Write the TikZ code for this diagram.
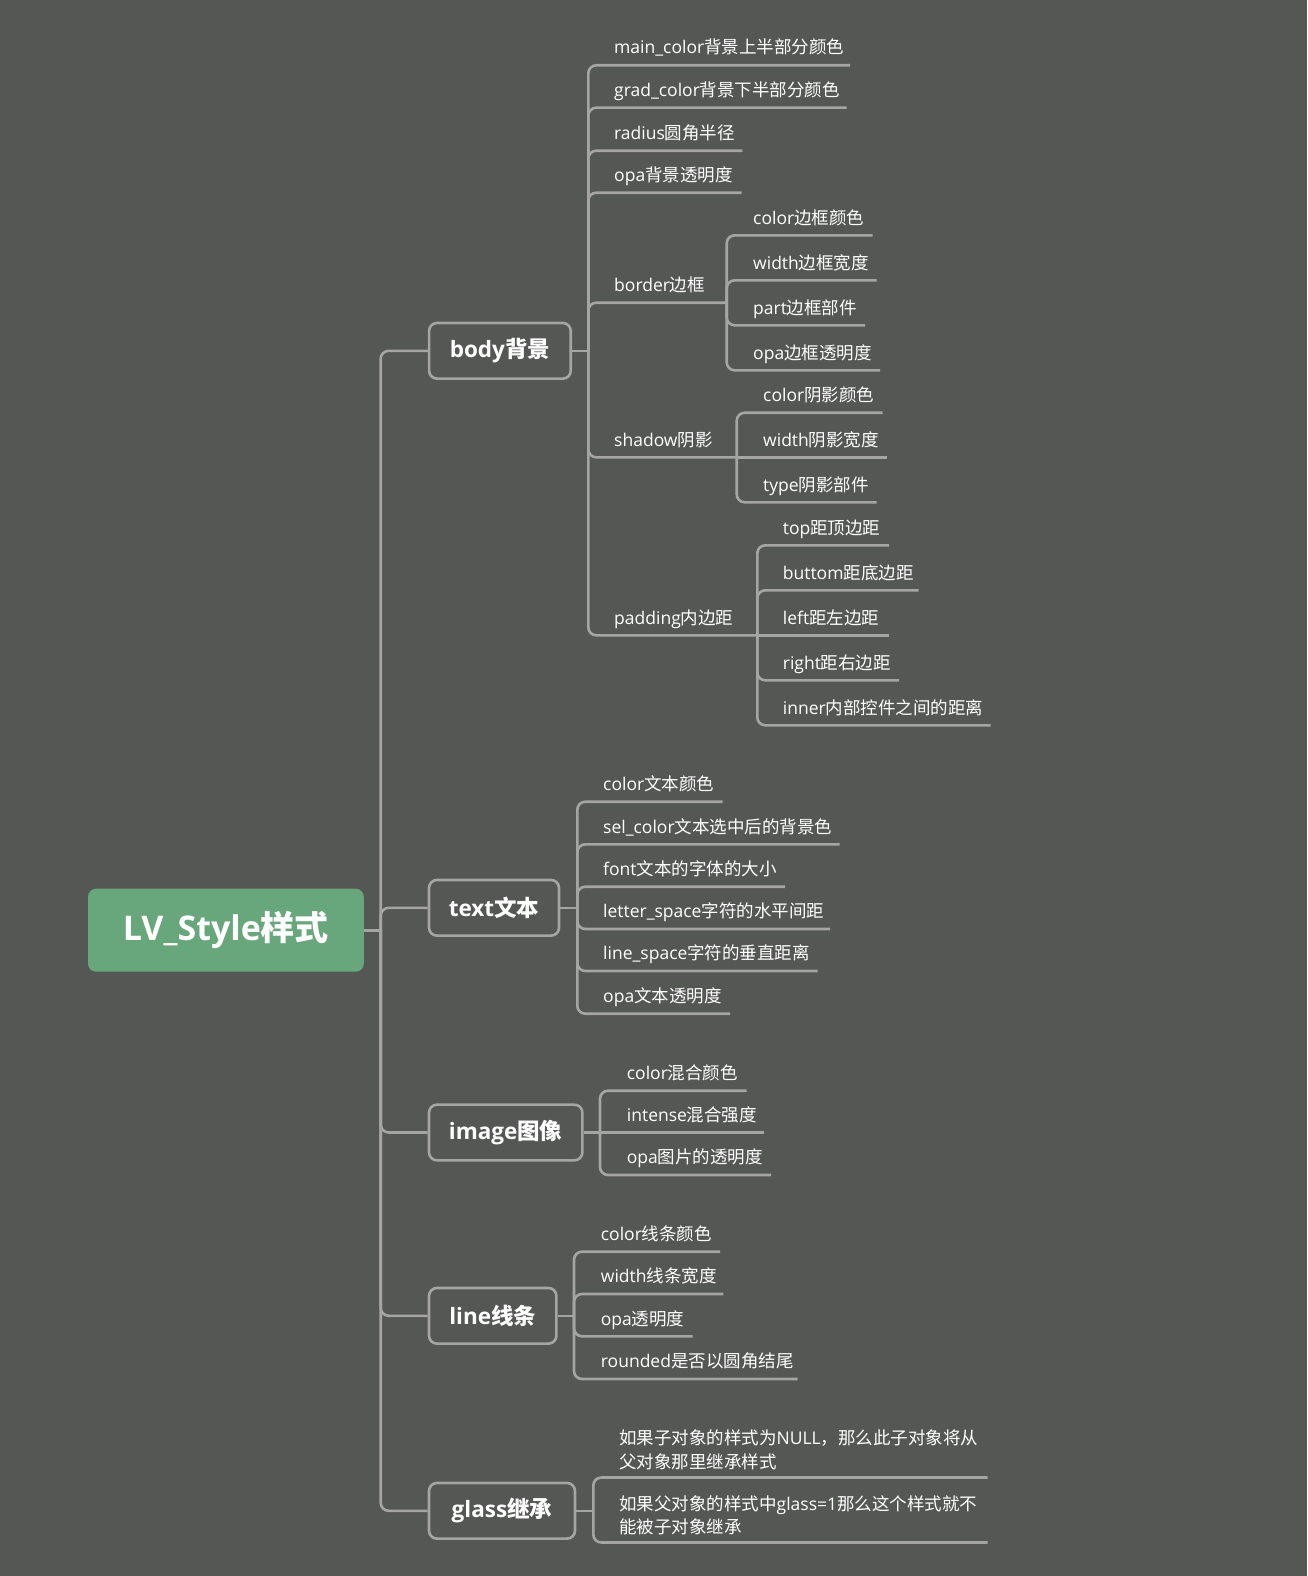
\documentclass[tikz,border=0pt]{standalone}
\usepackage{fontspec}
\setmainfont{Open Sans}
\newfontfamily\cjkf{Noto Sans CJK SC}
\XeTeXinterchartokenstate=1
\newXeTeXintercharclass\cjkcls
\count255="4E00
\loop\XeTeXcharclass\count255=\cjkcls \advance\count255 by 1 \ifnum\count255<"A000 \repeat
\XeTeXcharclass"FF0C=\cjkcls
\XeTeXinterchartoks 0 \cjkcls = {\cjkf}
\XeTeXinterchartoks 4095 \cjkcls = {\cjkf}
\XeTeXinterchartoks \cjkcls 0 = {\rmfamily}
\definecolor{bgC}{HTML}{555755}
\definecolor{lnC}{HTML}{A5A6A3}
\definecolor{rootC}{HTML}{68A67C}
\tikzset{
  conn/.style={draw=lnC, line width=2.6pt, rounded corners=8pt},
  leaf/.style={anchor=base west, inner sep=0pt, text=white, font=\fontsize{17.5}{23.4}\selectfont},
  leaftwo/.style={leaf, anchor=west, align=left},
  topic/.style={draw=lnC, line width=2.6pt, rounded corners=8pt, minimum height=55.7pt, inner sep=0pt, text=white, font=\bfseries\fontsize{22.5}{27}\selectfont},
  root/.style={fill=rootC, rounded corners=8pt, minimum width=275.7pt, minimum height=83pt, inner sep=0pt, text=white, font=\bfseries\fontsize{34}{40}\selectfont}
}
\newcommand\leafitem[5]{\node[leaf] (#1) at (#2,#3-11.3) {#5}; \coordinate (#1e) at (#4,#3);}
\begin{document}
\begin{tikzpicture}[x=1pt,y=-1pt]
\fill[bgC] (0,0) rectangle (1307,1576);
\useasboundingbox (0,0) rectangle (1307,1576);
% root and topics
\node[root] (root) at (225.9,930.2) {LV\_Style样式};
\node[topic, minimum width=141.7pt] (body) at (499.9,350.8) {body背景};
\node[topic, minimum width=130pt] (text) at (494,907.8) {text文本};
\node[topic, minimum width=153.4pt] (image) at (505.7,1132.5) {image图像};
\node[topic, minimum width=127.4pt] (line) at (492.7,1315.8) {line线条};
\node[topic, minimum width=146pt] (glass) at (502,1510.8) {glass继承};
\coordinate (mJ) at (380.7,930.2);
\draw[conn] (root.east) -- (mJ);
\foreach \t in {body,text,image,line,glass} {\draw[conn] (mJ) |- (\t.west);}
% body
\coordinate (bJ) at (588.3,350.8);
\draw[conn] (body.east) -- (bJ);
\leafitem{b1}{614}{65.3}{850}{main\_color背景上半部分颜色}
\leafitem{b2}{614}{107.7}{846.7}{grad\_color背景下半部分颜色}
\leafitem{b3}{614}{150.7}{742.3}{radius圆角半径}
\leafitem{b4}{614}{192.7}{741.7}{opa背景透明度}
\leafitem{b5}{614}{302.7}{726.7}{border边框}
\leafitem{b6}{614}{457.3}{736.7}{shadow阴影}
\leafitem{b7}{614}{635.3}{757.3}{padding内边距}
\foreach \n in {b1,b2,b3,b4,b5,b6,b7} {\draw[conn] (bJ) |- (\n e);}
% border
\leafitem{bb1}{753}{235.3}{872.7}{color边框颜色}
\leafitem{bb2}{753}{280.3}{876.7}{width边框宽度}
\leafitem{bb3}{753}{325.3}{865}{part边框部件}
\leafitem{bb4}{753}{370.3}{880}{opa边框透明度}
\foreach \n in {bb1,bb2,bb3,bb4} {\draw[conn] (b5e) |- (\n e);}
% shadow
\leafitem{bs1}{763}{412.7}{882.7}{color阴影颜色}
\leafitem{bs2}{763}{457.3}{886.7}{width阴影宽度}
\leafitem{bs3}{763}{502.3}{876.7}{type阴影部件}
\draw[conn] (b6e) |- (bs1e);
\draw[conn] (b6e) -- (bs2e);
\draw[conn] (b6e) |- (bs3e);
% padding
\leafitem{bp1}{782.7}{545.3}{889}{top距顶边距}
\leafitem{bp2}{782.7}{590.3}{918.7}{buttom距底边距}
\leafitem{bp3}{782.7}{635.3}{889}{left距左边距}
\leafitem{bp4}{782.7}{680.3}{899}{right距右边距}
\leafitem{bp5}{782.7}{725.3}{990.7}{inner内部控件之间的距离}
\draw[conn] (b7e) |- (bp1e);
\draw[conn] (b7e) |- (bp2e);
\draw[conn] (b7e) -- (bp3e);
\draw[conn] (b7e) |- (bp4e);
\draw[conn] (b7e) |- (bp5e);
% text
\coordinate (tJ) at (577.3,907.8);
\draw[conn] (text.east) -- (tJ);
\leafitem{t1}{603}{801.7}{722.7}{color文本颜色}
\leafitem{t2}{603}{844.3}{839.5}{sel\_color文本选中后的背景色}
\leafitem{t3}{603}{886.7}{785}{font文本的字体的大小}
\leafitem{t4}{603}{929}{830}{letter\_space字符的水平间距}
\leafitem{t5}{603}{971}{817.7}{line\_space字符的垂直距离}
\leafitem{t6}{603}{1013.7}{730}{opa文本透明度}
\foreach \n in {t1,t2,t3,t4,t5,t6} {\draw[conn] (tJ) |- (\n e);}
% image
\coordinate (iJ) at (600,1132.5);
\draw[conn] (image.east) -- (iJ);
\leafitem{i1}{626.7}{1090.7}{746.7}{color混合颜色}
\leafitem{i2}{626.7}{1132.5}{764}{intense混合强度}
\leafitem{i3}{626.7}{1175}{771}{opa图片的透明度}
\draw[conn] (iJ) |- (i1e);
\draw[conn] (iJ) -- (i2e);
\draw[conn] (iJ) |- (i3e);
% line
\coordinate (lJ) at (574,1315.8);
\draw[conn] (line.east) -- (lJ);
\leafitem{l1}{600.7}{1251.7}{720}{color线条颜色}
\leafitem{l2}{600.7}{1294}{723.3}{width线条宽度}
\leafitem{l3}{600.7}{1336.3}{692.7}{opa透明度}
\leafitem{l4}{600.7}{1379}{797.7}{rounded是否以圆角结尾}
\foreach \n in {l1,l2,l3,l4} {\draw[conn] (lJ) |- (\n e);}
% glass
\coordinate (gJ) at (593.3,1510.8);
\draw[conn] (glass.east) -- (gJ);
\node[leaftwo] (g1) at (619,1450) {如果子对象的样式为NULL，那么此子对象将从\\父对象那里继承样式};
\coordinate (g1e) at (987.7,1477.5);
\node[leaftwo] (g2) at (619,1515) {如果父对象的样式中glass=1那么这个样式就不\\能被子对象继承};
\coordinate (g2e) at (987.7,1542.5);
\draw[conn] (gJ) |- (g1e);
\draw[conn] (gJ) |- (g2e);
\end{tikzpicture}
\end{document}
